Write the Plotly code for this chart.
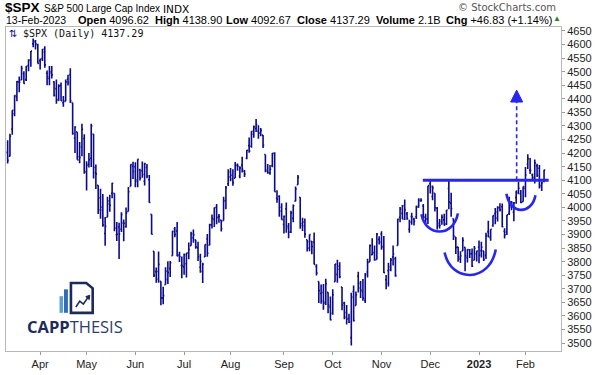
import numpy as np
import pandas as pd
import plotly.graph_objects as go

# ---------------- data ----------------
holidays = ["2022-04-15", "2022-05-30", "2022-06-20", "2022-07-04", "2022-09-05",
            "2022-11-24", "2022-12-26", "2023-01-02", "2023-01-16"]
dates = pd.bdate_range("2022-03-14", "2023-02-13", freq="C", holidays=holidays)

opens = [
    # Mar
    4202.75, 4188.82, 4288.14, 4345.11, 4407.34, 4462.40, 4469.10, 4493.10, 4469.98, 4522.66,
    4541.09, 4602.86, 4610.00, 4599.02,
    # Apr
    4540.32, 4547.97, 4572.45, 4494.17, 4474.65, 4494.15, 4462.64, 4437.59, 4394.30, 4449.12,
    4385.63, 4390.63, 4472.26, 4489.17, 4385.83, 4255.34, 4278.14, 4186.52, 4222.58, 4253.75,
    # May
    4130.61, 4159.78, 4181.18, 4270.43, 4128.17, 4081.27, 4035.18, 3990.08, 3903.95, 3963.90,
    4013.02, 4052.00, 4051.98, 3899.00, 3927.76, 3919.42, 3942.94, 3929.59, 3984.60, 4077.43,
    4151.09,
    # Jun
    4149.78, 4095.41, 4137.57, 4134.72, 4096.47, 4147.12, 4101.65, 3974.39, 3838.15, 3763.52,
    3764.05, 3728.18, 3665.90, 3715.31, 3733.89, 3774.71, 3821.75, 3920.76, 3913.00, 3825.09,
    3785.99,
    # Jul
    3781.00, 3792.61, 3831.98, 3858.85, 3888.26, 3880.94, 3851.95, 3779.67, 3763.99, 3818.00,
    3883.79, 3860.73, 3935.32, 3955.47, 4000.34, 3965.72, 3953.22, 3951.43, 4026.13, 4087.33,
    # Aug
    4112.38, 4104.21, 4107.96, 4154.85, 4115.87, 4155.93, 4133.11, 4181.02, 4227.40, 4225.02,
    4269.37, 4290.46, 4280.40, 4273.13, 4266.31, 4195.08, 4133.09, 4126.55, 4153.26, 4198.74,
    4034.58, 4041.25, 4000.67,
    # Sep
    3936.73, 3994.66, 3930.89, 3909.43, 3959.94, 4022.94, 4083.67, 4037.12, 3940.73, 3932.41,
    3880.95, 3849.91, 3875.23, 3871.40, 3782.36, 3727.14, 3682.72, 3686.44, 3651.94, 3687.01,
    3633.48,
    # Oct
    3609.78, 3726.46, 3753.25, 3771.97, 3706.74, 3647.51, 3595.86, 3590.83, 3520.37, 3690.41,
    3638.65, 3746.26, 3703.11, 3689.05, 3657.10, 3762.01, 3799.44, 3825.97, 3834.69, 3808.26,
    3881.85,
    # Nov
    3901.79, 3852.90, 3733.25, 3766.98, 3780.71, 3817.02, 3810.94, 3859.89, 3963.72, 3977.97,
    4006.41, 3976.82, 3919.26, 3966.39, 3956.23, 3965.51, 4000.30, 4023.34, 4005.36, 3964.19,
    3957.18,
    # Dec
    4087.14, 4040.17, 4052.02, 3996.63, 3933.28, 3947.79, 3954.17, 3939.29, 4069.38, 4015.54,
    3958.37, 3890.91, 3853.79, 3810.47, 3839.49, 3853.26, 3815.11, 3843.34, 3829.56, 3805.45,
    3829.06,
    # Jan
    3853.29, 3840.36, 3839.74, 3823.37, 3910.82, 3888.57, 3932.35, 3977.57, 3960.60, 3999.28,
    4002.25, 3911.84, 3909.04, 3978.14, 4001.74, 3982.71, 4036.08, 4053.72, 4049.27, 4020.85,
    # Feb
    4070.07, 4158.68, 4136.69, 4119.57, 4105.35, 4153.47, 4144.25, 4077.39, 4096.62,
]

highs = [
    4247.57, 4271.05, 4357.86, 4412.67, 4465.40, 4481.75, 4522.00, 4501.07, 4520.58, 4546.03,
    4575.65, 4622.00, 4617.00, 4603.07,
    4548.70, 4583.50, 4593.45, 4503.94, 4521.16, 4520.41, 4464.35, 4471.00, 4453.92, 4460.46,
    4410.31, 4471.03, 4488.29, 4512.94, 4385.83, 4299.02, 4278.14, 4240.71, 4308.45, 4269.68,
    4169.81, 4200.10, 4307.66, 4270.43, 4157.69, 4081.27, 4068.82, 4049.09, 3964.80, 4038.88,
    4046.46, 4090.72, 4051.98, 3945.96, 3943.42, 3981.88, 3955.68, 3999.33, 4075.14, 4158.49,
    4168.34,
    4166.54, 4177.51, 4142.67, 4168.78, 4164.86, 4160.14, 4119.10, 3974.39, 3838.15, 3778.18,
    3837.56, 3728.18, 3707.71, 3779.65, 3801.79, 3802.58, 3913.65, 3927.72, 3945.86, 3836.50,
    3818.99,
    3829.82, 3832.19, 3870.91, 3910.63, 3918.50, 3880.94, 3873.41, 3829.44, 3796.41, 3863.62,
    3902.44, 3939.81, 3974.13, 3999.29, 4012.44, 3975.30, 3953.22, 4039.56, 4078.95, 4140.15,
    4144.95, 4140.47, 4167.66, 4161.29, 4151.58, 4186.62, 4137.30, 4211.03, 4257.91, 4280.47,
    4301.79, 4325.28, 4302.18, 4292.53, 4266.31, 4195.08, 4159.77, 4156.56, 4200.54, 4203.04,
    4062.99, 4044.98, 4015.37,
    3970.23, 4018.43, 3942.55, 3987.89, 4010.50, 4076.81, 4119.28, 4037.12, 3961.94, 3959.14,
    3880.95, 3900.45, 3876.01, 3907.07, 3790.20, 3727.14, 3715.67, 3717.53, 3736.74, 3687.01,
    3671.44,
    3698.35, 3791.92, 3806.91, 3797.93, 3706.74, 3652.17, 3640.66, 3608.34, 3685.41, 3712.00,
    3689.73, 3762.79, 3728.58, 3736.00, 3757.89, 3810.74, 3862.85, 3886.15, 3859.95, 3905.42,
    3893.73,
    3911.79, 3894.44, 3750.59, 3796.34, 3813.95, 3859.40, 3818.20, 3958.33, 4001.48, 4008.97,
    4028.84, 3983.09, 3954.33, 3979.89, 3962.00, 4005.88, 4033.78, 4034.02, 4012.27, 3976.77,
    4080.11,
    4100.51, 4080.48, 4052.45, 4001.51, 3957.57, 3974.19, 3977.02, 3990.71, 4100.96, 4053.76,
    3958.37, 3890.91, 3854.86, 3838.24, 3889.82, 3853.26, 3845.80, 3846.65, 3848.32, 3858.19,
    3839.85,
    3878.46, 3873.16, 3839.74, 3906.19, 3950.57, 3919.83, 3970.07, 3997.76, 4003.95, 4015.39,
    4014.16, 3922.94, 3972.96, 4039.31, 4023.92, 4019.55, 4061.57, 4094.21, 4063.85, 4077.16,
    4148.95, 4195.44, 4182.36, 4124.63, 4176.54, 4160.67, 4156.23, 4094.36, 4138.90,
]

lows = [
    4161.72, 4187.90, 4267.92, 4335.65, 4390.57, 4424.30, 4469.10, 4455.81, 4465.17, 4501.07,
    4517.69, 4589.66, 4581.32, 4530.41,
    4507.57, 4539.21, 4514.17, 4450.04, 4450.30, 4474.60, 4408.38, 4381.34, 4392.70, 4392.59,
    4370.30, 4390.63, 4448.76, 4384.47, 4267.62, 4200.82, 4175.04, 4162.90, 4188.63, 4124.28,
    4062.51, 4147.08, 4148.91, 4106.01, 4067.91, 3975.48, 3958.17, 3928.82, 3858.87, 3963.90,
    3983.99, 4033.93, 3911.91, 3876.58, 3810.32, 3909.04, 3875.13, 3925.03, 3984.60, 4077.43,
    4104.88,
    4073.85, 4074.37, 4098.67, 4109.18, 4080.19, 4107.20, 4017.17, 3900.16, 3743.52, 3722.30,
    3722.30, 3639.77, 3643.41, 3715.31, 3717.69, 3743.52, 3821.75, 3889.66, 3820.14, 3799.02,
    3738.67,
    3752.10, 3742.06, 3809.37, 3858.85, 3869.34, 3847.22, 3802.36, 3759.07, 3721.56, 3817.18,
    3818.63, 3860.73, 3922.03, 3927.64, 3938.24, 3943.46, 3910.74, 3951.43, 3992.97, 4079.22,
    4096.02, 4079.81, 4107.96, 4135.42, 4107.31, 4128.97, 4112.09, 4177.26, 4201.41, 4219.78,
    4256.90, 4277.77, 4253.08, 4261.98, 4218.70, 4129.86, 4124.03, 4119.97, 4147.59, 4057.66,
    4017.42, 3965.21, 3954.53,
    3903.65, 3906.21, 3886.75, 3906.03, 3944.81, 4022.94, 4083.67, 3921.73, 3912.84, 3888.28,
    3837.08, 3838.50, 3827.54, 3789.49, 3749.45, 3647.47, 3644.76, 3623.29, 3640.61, 3610.40,
    3584.13,
    3604.93, 3726.46, 3722.66, 3739.22, 3620.73, 3588.10, 3568.45, 3573.86, 3491.58, 3579.68,
    3638.65, 3686.53, 3666.51, 3656.44, 3647.42, 3741.65, 3799.44, 3824.07, 3803.79, 3808.26,
    3863.18,
    3843.80, 3758.68, 3698.15, 3708.84, 3764.70, 3786.28, 3744.22, 3859.89, 3944.82, 3956.40,
    3953.17, 3954.34, 3906.54, 3935.98, 3933.34, 3956.88, 3998.66, 4020.76, 3955.77, 3937.65,
    3938.58,
    4050.87, 4026.63, 3984.49, 3918.39, 3922.68, 3935.83, 3933.04, 3935.30, 3993.03, 3965.65,
    3879.45, 3827.91, 3800.04, 3795.62, 3839.49, 3764.49, 3797.01, 3813.22, 3780.78, 3805.45,
    3800.34,
    3794.33, 3815.77, 3802.42, 3809.56, 3890.42, 3877.29, 3928.54, 3937.56, 3947.67, 3984.57,
    3926.59, 3885.54, 3897.86, 3971.64, 3989.79, 3949.06, 4013.29, 4048.70, 4015.55, 4020.44,
    4037.20, 4141.88, 4123.36, 4103.98, 4088.39, 4111.86, 4069.67, 4060.79, 4092.67,
]

closes = [
    4173.11, 4262.45, 4357.86, 4411.67, 4463.12, 4461.18, 4511.61, 4456.24, 4520.16, 4543.06,
    4575.52, 4615.00, 4602.45, 4530.41,
    4545.86, 4582.64, 4525.12, 4481.15, 4500.21, 4488.28, 4412.53, 4397.45, 4446.59, 4392.59,
    4391.69, 4462.21, 4459.45, 4393.66, 4271.78, 4296.12, 4175.20, 4183.96, 4287.50, 4131.93,
    4155.38, 4175.48, 4300.17, 4146.87, 4123.34, 3991.24, 4001.05, 3935.18, 3930.08, 4023.89,
    4008.01, 4088.85, 3923.68, 3900.79, 3901.36, 3973.75, 3941.48, 3978.73, 4057.84, 4158.24,
    4132.15,
    4101.23, 4176.82, 4108.54, 4121.43, 4160.68, 4115.77, 4017.82, 3900.86, 3749.63, 3735.48,
    3789.99, 3666.77, 3674.84, 3764.79, 3759.89, 3795.73, 3911.74, 3900.11, 3821.55, 3818.83,
    3785.38,
    3825.33, 3831.39, 3845.08, 3902.62, 3899.38, 3854.43, 3818.80, 3801.78, 3790.38, 3863.16,
    3830.85, 3936.69, 3959.90, 3998.95, 3961.63, 3966.84, 3921.05, 4023.61, 4072.43, 4130.29,
    4118.63, 4091.19, 4155.17, 4151.94, 4145.19, 4140.06, 4122.47, 4210.24, 4207.27, 4280.15,
    4297.14, 4305.20, 4274.04, 4283.74, 4228.48, 4137.99, 4128.73, 4140.77, 4199.12, 4057.66,
    4030.61, 3986.16, 3955.00,
    3966.85, 3924.26, 3908.19, 3979.87, 4006.18, 4067.36, 4110.41, 3932.69, 3946.01, 3901.35,
    3873.33, 3899.89, 3855.93, 3789.93, 3757.99, 3693.23, 3655.04, 3647.29, 3719.04, 3640.47,
    3585.62,
    3678.43, 3790.93, 3783.28, 3744.52, 3639.66, 3612.39, 3588.84, 3577.03, 3669.91, 3583.07,
    3677.95, 3719.98, 3695.16, 3665.78, 3752.75, 3797.34, 3859.11, 3830.60, 3807.30, 3901.06,
    3871.98,
    3856.10, 3759.69, 3719.89, 3770.55, 3806.80, 3828.11, 3748.57, 3956.37, 3992.93, 3957.25,
    3991.73, 3958.79, 3946.56, 3965.34, 3949.94, 4003.58, 4027.26, 4026.12, 3963.94, 3957.63,
    4080.11,
    4076.57, 4071.70, 3998.84, 3941.26, 3933.92, 3963.51, 3934.38, 3990.56, 4019.65, 3995.32,
    3895.75, 3852.36, 3817.66, 3821.62, 3878.44, 3822.39, 3844.82, 3829.25, 3783.22, 3849.28,
    3839.50,
    3824.14, 3852.97, 3808.10, 3895.08, 3892.09, 3919.25, 3969.61, 3983.17, 3999.09, 3990.97,
    3928.86, 3898.85, 3972.61, 4019.81, 4016.95, 4016.22, 4060.43, 4070.56, 4017.77, 4076.60,
    4119.21, 4179.76, 4136.48, 4111.08, 4164.00, 4117.86, 4081.50, 4090.46, 4137.29,
]

y_ticks = list(range(3500, 4651, 50))
neckline_level = 4100
# analyst annotations (index, price)
neckline_span = (178.8, 233.0)
target_x, target_top = 219.2, 4432
arcs = [  # (start_x, start_y, bottom_y, end_x, end_y)
    (178.2, 3975, 3911, 193.9, 3978),
    (188.2, 3834, 3751, 210.2, 3845),
    (214.8, 4050, 3991, 227.3, 4045),
]

# ---------------- figure ----------------
n = len(dates)
xi = np.arange(n)
NAVY = "#0c0c8a"
BLUE = "#2626ee"
FONT = "Liberation Sans, Arial, sans-serif"

# month tick positions: first trading day of each month after the first
month_ids = dates.to_period("M")
tickvals, ticktext = [], []
for i in range(1, n):
    if month_ids[i] != month_ids[i - 1]:
        tickvals.append(i)
        d = dates[i]
        ticktext.append("<b>%d</b>" % d.year if d.month == 1 else d.strftime("%b"))

fig = go.Figure(go.Ohlc(
    x=xi, open=opens, high=highs, low=lows, close=closes,
    increasing=dict(line=dict(color=NAVY, width=1.6)),
    decreasing=dict(line=dict(color=NAVY, width=1.6)),
    tickwidth=0.5, hoverinfo="skip", showlegend=False,
))

PL, PR, PT, PB = 5, 565, 27, 358
W, H = 597, 375


def px(x):
    return (x - PL) / (PR - PL)


def py(y):
    return (PB - y) / (PB - PT)


shapes = []
# neckline
shapes.append(dict(type="line", xref="x", yref="y", x0=neckline_span[0], x1=neckline_span[1],
                   y0=neckline_level, y1=neckline_level, line=dict(color=BLUE, width=3)))
# dashed target
head_base = target_top - 44
shapes.append(dict(type="line", xref="x", yref="y", x0=target_x, x1=target_x,
                   y0=neckline_level, y1=head_base, line=dict(color=BLUE, width=1.6, dash="4px,3px")))
shapes.append(dict(type="path", xref="x", yref="y",
                   path="M %.2f,%.2f L %.2f,%.2f L %.2f,%.2f Z" % (target_x - 2.6, head_base, target_x + 2.6, head_base,
                                                                  target_x, target_top),
                   fillcolor=BLUE, line=dict(color=BLUE, width=1)))
# arcs
for (x0, y0, yb, x2, y2) in arcs:
    ys = (y0 + y2) / 2
    yc = (yb - 0.25 * ys) / 0.75
    w = x2 - x0
    path = "M %.2f,%.2f C %.2f,%.2f %.2f,%.2f %.2f,%.2f" % (x0, y0, x0 + 0.12 * w, yc, x2 - 0.12 * w, yc, x2, y2)
    shapes.append(dict(type="path", xref="x", yref="y", path=path, line=dict(color=BLUE, width=2.6)))

# logo icon (paper coords)
def ppath(points, close=True):
    s = "M " + " L ".join("%.4f,%.4f" % (px(a), py(b)) for a, b in points)
    return s + (" Z" if close else "")


LOGO_NAVY = "#1d2a5c"
shapes.append(dict(type="rect", xref="paper", yref="paper", x0=px(59), x1=px(62.5), y0=py(319), y1=py(302),
                   fillcolor="#5aa0dc", line=dict(width=0)))
shapes.append(dict(type="rect", xref="paper", yref="paper", x0=px(63.5), x1=px(67.5), y0=py(319), y1=py(295),
                   fillcolor="#2f6fb8", line=dict(width=0)))
shapes.append(dict(type="path", xref="paper", yref="paper",
                   path=ppath([(70.5, 319), (70.5, 288.5), (86, 288.5), (92.5, 294), (92.5, 319)]),
                   line=dict(color=LOGO_NAVY, width=2.6)))
shapes.append(dict(type="path", xref="paper", yref="paper",
                   path=ppath([(75.5, 313), (79.5, 307), (83, 310), (88, 303)], close=False),
                   line=dict(color=LOGO_NAVY, width=1.6)))
shapes.append(dict(type="path", xref="paper", yref="paper",
                   path=ppath([(85.5, 302.5), (89.5, 301), (89, 305.5)]),
                   fillcolor=LOGO_NAVY, line=dict(color=LOGO_NAVY, width=1)))

ann = []


def text(x, y, s, size=11, color="#111", family=FONT, anchor="left"):
    ann.append(dict(xref="paper", yref="paper", x=px(x), y=py(y), text=s, showarrow=False,
                    xanchor=anchor, yanchor="middle", font=dict(family=family, size=size, color=color)))


# header row 1
text(2, 7.5, "<b>$SPX</b>", size=13.5, color="#000")
text(41, 8.5, "S&P 500 Large Cap Index", size=10, color="#000")
text(161, 9, "INDX", size=10.5, color="#000", family="DejaVu Sans, sans-serif")
text(562, 7, "© StockCharts.com", size=10, color="#555", family="DejaVu Sans, sans-serif", anchor="right")
# header row 2
text(3, 19.5, "13-Feb-2023", size=10.5, color="#000")
for x, s in [(76, "<b>Open</b> 4096.62"), (153, "<b>High</b> 4138.90"), (225, "<b>Low</b> 4092.67"),
             (297, "<b>Close</b> 4137.29"), (376, "<b>Volume</b> 2.1B"), (447, "<b>Chg</b> +46.83 (+1.14%)")]:
    text(x, 19.5, s, size=11, color="#000")
text(555, 18.5, "▲", size=8, color="#2e7d32")
# inside label
text(6, 34, "⇅", size=10, color=NAVY, family="DejaVu Sans, sans-serif")
text(20, 34, "$SPX (Daily) 4137.29", size=10, color="#111", family="DejaVu Sans Mono, monospace")
# logo text
ann.append(dict(xref="paper", yref="paper", x=px(74.5), y=py(333), showarrow=False, xanchor="center",
                yanchor="middle",
                text="<b>CAPP</b><span style='color:#2e3d70'>THESIS</span>",
                font=dict(family="Open Sans, sans-serif", size=16.5, color=LOGO_NAVY)))

axis_common = dict(showline=True, mirror=True, linecolor="#b8b8b8", linewidth=1, showgrid=False,
                   zeroline=False, ticks="outside", ticklen=3, tickcolor="#9a9a9a",
                   tickfont=dict(family=FONT, size=11, color="#222"))

fig.update_layout(
    width=W, height=H,
    margin=dict(l=PL, r=W - PR, t=PT, b=H - PB),
    paper_bgcolor="white", plot_bgcolor="white",
    xaxis=dict(range=[-0.7, n - 1 + 7.3], tickvals=tickvals, ticktext=ticktext,
               rangeslider=dict(visible=False), **axis_common),
    yaxis=dict(range=[3471, 4664.5], side="right", tickvals=y_ticks, **axis_common),
    shapes=shapes, annotations=ann, showlegend=False,
)

fig.write_html("out.html", config={"displayModeBar": False},
               post_script="document.body.style.margin='0px';document.body.style.overflow='hidden';")
